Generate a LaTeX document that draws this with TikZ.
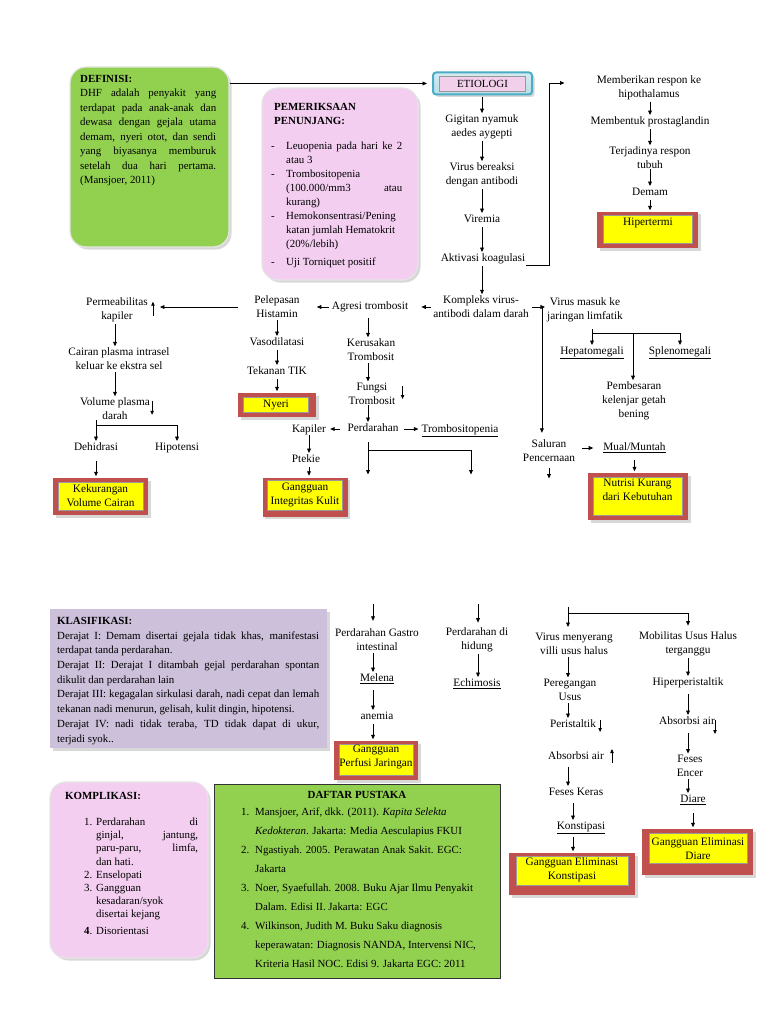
\documentclass[tikz,border=0pt]{standalone}
\usepackage{fontspec}
\setmainfont{Liberation Serif}
\usetikzlibrary{arrows.meta,calc,shadows}
\definecolor{grn}{RGB}{146,208,80}
\definecolor{pnk}{RGB}{243,206,240}
\definecolor{purp}{RGB}{204,192,218}
\definecolor{bred}{RGB}{192,80,77}
\definecolor{yel}{RGB}{255,255,0}
\definecolor{tealb}{RGB}{75,172,198}
\definecolor{etib}{RGB}{183,222,232}
\definecolor{etip}{RGB}{242,208,236}
\newcommand\fntA{\fontsize{11.3}{14}\selectfont}
\newcommand\fntB{\fontsize{10.9}{14.5}\selectfont}
\newcommand\fntK{\fontsize{10.9}{14.7}\selectfont}
\begin{document}
\begin{tikzpicture}[x=1pt,y=-1pt,
  txt/.style={font=\fntA, align=center, inner sep=0pt},
  one/.style={text height=8pt, text depth=2.5pt},
  arr/.style={-{Triangle[length=4.5pt,width=3.8pt]}, line width=0.8pt, shorten <=2pt, shorten >=1.5pt},
  sarr/.style={-{Triangle[length=4pt,width=3.4pt]}, line width=0.8pt},
  ln/.style={line width=0.8pt},
  shd/.style={drop shadow={shadow xshift=2.5pt, shadow yshift=-2.5pt, opacity=0.3}},
  redbox/.style={fill=bred, inner sep=0pt, shd},
  yelbox/.style={fill=yel, draw=black!40, line width=0.3pt, inner sep=0pt, font=\fntA, align=center},
  rbox/.style={rounded corners=16pt, draw=white!80!gray, line width=1.2pt, inner sep=0pt, shd},
]
\useasboundingbox (0,0) rectangle (768,1024);
\fill[white] (0,0) rectangle (768,1024);

% ---------- DEFINISI ----------
\node[rbox, fill=grn, minimum width=159, minimum height=180] (def) at (149.5,157) {};
\node[txt, font=\fntB, align=justify, text width=136, anchor=north west] (deftx) at (80,75)
 {\textbf{DEFINISI:}\\ DHF adalah penyakit yang\linebreak terdapat pada anak-anak dan\linebreak dewasa dengan gejala utama\linebreak demam, nyeri otot, dan sendi\linebreak yang biyasanya memburuk\linebreak setelah dua hari pertama.\linebreak (Mansjoer, 2011)};

% ---------- ETIOLOGI ----------
\node[rounded corners=3pt, draw=tealb, line width=2pt, top color=etib!60, bottom color=etib, minimum width=99, minimum height=22, inner sep=0pt, shd] (etiO) at (482.5,83.5) {};
\node[fill=etip, draw=black!40, line width=0.3pt, minimum width=86, minimum height=15, inner sep=0pt, font=\fntB] (eti) at (482.5,83.5) {ETIOLOGI};
\draw[arr, shorten <=0pt, shorten >=5pt] (def.east |- etiO.west) -- (etiO.west);

\node[txt] (gig) at (482,127) {Gigitan nyamuk\\aedes aygepti};
\node[txt] (vir) at (482,175) {Virus bereaksi\\dengan antibodi};
\node[txt, one] (vire) at (482,220) {Viremia};
\node[txt, one] (akt) at (483,259) {Aktivasi koagulasi};
\node[txt] (komp) at (481,307) {Kompleks virus-\\antibodi dalam darah};
\draw[arr] (etiO.south -| gig.north) -- (gig.north);
\draw[arr] (gig.south) -- (vir.north);
\draw[arr] (vir.south) -- (vire.north);
\draw[arr] (vire.south) -- (vire.south |- akt.north);
\draw[arr] (vire.south |- akt.south) -- (vire.south |- komp.north);

\coordinate (memin) at (566,83);
\coordinate (aktR) at ($(akt.east)+(1,6)$);
\draw[arr, shorten <=0pt] (aktR) -- ++(23,0) |- (memin);

% ---------- right top ----------
\node[txt] (mem) at (649,88) {Memberikan respon ke\\hipothalamus};
\node[txt, one] (pros) at (650,122) {Membentuk prostaglandin};
\node[txt] (terj) at (650,158) {Terjadinya respon\\tubuh};
\node[txt, one] (dem) at (650,193) {Demam};
\node[redbox, minimum width=101, minimum height=36] (hipO) at (647.5,230) {};
\node[yelbox, minimum width=89, minimum height=28] (hipI) at (647.5,229) {};
\node[txt, one] (hip) at (648,223) {Hipertermi};
\draw[arr] (mem.south -| pros.north) -- (pros.north);
\draw[arr] (pros.south) -- (terj.north);
\draw[arr, shorten <=0pt] (terj.south) -- (dem.north);
\draw[arr] (dem.south) -- (dem.south |- hipO.north);

% ---------- PEMERIKSAAN ----------
\node[rbox, fill=pnk, minimum width=156, minimum height=192] (pem) at (340,184) {};
\node[txt, font=\fntB\bfseries, align=left, anchor=north west] (pemt) at (274,103) {PEMERIKSAAN\\PENUNJANG:};
\node[txt, font=\fontsize{10.9}{14}\selectfont, align=justify, text width=131, anchor=north west] (peml) at (271,142)
 {\hangindent=15pt\hangafter=1 \makebox[15pt][l]{-}Leuopenia pada hari ke 2\linebreak atau 3\par
  \hangindent=15pt\hangafter=1 \makebox[15pt][l]{-}Trombositopenia\\(100.000/mm3 atau\linebreak kurang)\par
  \hangindent=15pt\hangafter=1 \makebox[15pt][l]{-}Hemokonsentrasi/Pening\linebreak katan jumlah Hematokrit\\(20\%/lebih)\par
  \vspace{3.5pt}\hangindent=15pt\hangafter=1 \makebox[15pt][l]{-}Uji Torniquet positif};

% ---------- middle row ----------
\node[txt, one] (agr) at (370,307) {Agresi trombosit};
\node[txt] (pel) at (277,307) {Pelepasan\\Histamin};
\node[txt] (perm) at (117,310) {Permeabilitas\\kapiler};
\draw[arr, shorten >=13pt] (komp.west) -- (komp.west -| agr.east);
\draw[arr, shorten <=3pt, shorten >=17pt] (agr.west) -- (agr.west -| pel.east);
\draw[arr, shorten <=16pt, shorten >=12pt] (pel.west) -- (pel.west -| perm.east);
\draw[sarr] ($(perm.north east)+(5,18)$) -- ++(0,-14);

\node[txt] (cair) at (119,359) {Cairan plasma intrasel\\keluar ke ekstra sel};
\node[txt] (vol) at (115,409) {Volume plasma\\darah};
\draw[arr] (perm.south -| vol.north) -- (vol.north |- cair.north);
\draw[arr] (cair.south -| vol.north) -- (vol.north);
\draw[sarr] ($(vol.north east)+(2,3)$) -- ++(0,14);

\node[txt, one] (dehi) at (96,448) {Dehidrasi};
\node[txt, one] (hipt) at (177,448) {Hipotensi};
\coordinate (vj) at (dehi.north |- vol.south);
\draw[arr, shorten <=0pt] (vj) -- (dehi.north);
\draw[arr, shorten <=0pt] ($(vj)+(0,5)$) -| (hipt.north);

\node[redbox, minimum width=95, minimum height=37] (kekO) at (100.5,496.5) {};
\node[yelbox, minimum width=85, minimum height=28] (kek) at (100.5,496) {Kekurangan\\Volume Cairan};
\draw[arr, shorten <=8pt] (dehi.south) -- (dehi.south |- kekO.north);

% Pelepasan column
\node[txt, one] (vaso) at (277,343) {Vasodilatasi};
\node[txt, one] (tek) at (277,372) {Tekanan TIK};
\node[redbox, minimum width=78, minimum height=24] (nyO) at (277,405) {};
\node[yelbox, minimum width=65, minimum height=15] (ny) at (276,404.5) {Nyeri};
\draw[arr] (pel.south) -- (vaso.north);
\draw[arr] (vaso.south) -- (tek.north);
\draw[arr] (tek.south) -- (tek.south |- nyO.north);

% Agresi column
\node[txt] (kerus) at (371,350) {Kerusakan\\Trombosit};
\node[txt] (fung) at (372,394) {Fungsi\\Trombosit};
\node[txt, one] (perd) at (373,429) {Perdarahan};
\draw[arr, shorten <=6pt] (agr.south -| 368,0) -- (368,0 |- kerus.north);
\draw[arr] (kerus.south -| 368,0) -- (368,0 |- fung.north);
\draw[arr, shorten <=0pt] (fung.south -| 368,0) -- (368,0 |- perd.north);
\draw[sarr] ($(fung.east)+(7,-8)$) -- ++(0,13);

\node[txt, one] (kap) at (309,430) {Kapiler};
\node[txt, one] (tromb) at (460,430) {\underline{Trombositopenia}};
\draw[arr, shorten <=7pt, shorten >=4pt] (perd.west) -- (perd.west -| kap.east);
\draw[arr, shorten <=5pt, shorten >=3pt] (perd.east) -- (perd.east -| tromb.west);

\node[txt, one] (ptek) at (306,460) {Ptekie};
\draw[arr, shorten <=0pt] (kap.south) -- (kap.south |- ptek.north);
\node[redbox, minimum width=85, minimum height=39] (kulO) at (305,497) {};
\node[yelbox, minimum width=75, minimum height=30] (kul) at (305,495) {Gangguan\\Integritas Kulit};
\draw[arr] (ptek.south -| kap.south) -- (kap.south |- kulO.north);

\coordinate (pd1) at (368,476);
\coordinate (pd2) at (471,476);
\coordinate (pdj) at (368,450);
\draw[arr, shorten <=8pt] (perd.south -| pd1) -- (pd1);
\draw[arr, shorten <=0pt] (pdj) -| (pd2);

% right middle
\node[txt] (vmas) at (585,310) {Virus masuk ke\\jaringan limfatik};
\draw[arr, shorten <=3pt, shorten >=2pt] (komp.east) -- (komp.east -| vmas.west);
\coordinate (kj) at ($(komp.east)+(13,0)$);
\node[txt] (sal) at (549,451) {Saluran\\Pencernaan};
\draw[arr, shorten <=0pt, shorten >=7pt] (kj) -- (kj |- sal.north);

\node[txt, one] (hep) at (592,352) {\underline{Hepatomegali}};
\node[txt, one] (spl) at (680,352) {\underline{Splenomegali}};
\node[txt] (pemb) at (634,401) {Pembesaran\\kelenjar getah\\bening};
\coordinate (vmj) at (633,333);
\draw[ln] (hep.north |- vmj) -- (spl.north |- vmj);
\draw[arr, shorten <=-4pt] (hep.north |- vmj) -- (hep.north);
\draw[arr, shorten <=0pt] (spl.north |- vmj) -- (spl.north);
\draw[arr, shorten <=0pt] (vmj) -- (vmj |- pemb.north);

\node[txt, one] (mual) at (634.5,448) {\underline{Mual/Muntah}};
\draw[arr, shorten <=7pt, shorten >=10pt] (sal.east |- mual.west) -- (mual.west);
\node[redbox, minimum width=100, minimum height=47] (nutO) at (638,496.5) {};
\node[yelbox, minimum width=89, minimum height=38] (nutI) at (637.5,496) {};
\node[txt] (nut) at (637.5,490) {Nutrisi Kurang\\dari Kebutuhan};
\draw[arr, shorten <=7pt] (mual.south) -- (mual.south |- nutO.north);
\coordinate (sd) at (549,480);
\draw[arr, shorten <=6pt] (sal.south -| sd) -- (sd);

% ---------- lower section ----------
\coordinate (g0) at (373,604);
\coordinate (h0) at (478,604);
\coordinate (s0) at (568,607);
\coordinate (s1) at (573,607);

\node[txt] (gas) at (377,640) {Perdarahan Gastro\\intestinal};
\node[txt, one] (mel) at (377,679) {\underline{Melena}};
\node[txt, one] (anem) at (377,717) {anemia};
\node[redbox, minimum width=84, minimum height=39] (perfO) at (376,760.5) {};
\node[yelbox, minimum width=74, minimum height=31] (perfI) at (376,759.5) {};
\node[txt] (perf) at (376,757) {Gangguan\\Perfusi Jaringan};
\draw[arr, shorten <=0pt, shorten >=8pt] (g0) -- (g0 |- gas.north);
\draw[arr] (g0 |- gas.south) -- (g0 |- mel.north);
\draw[arr, shorten <=6pt] (g0 |- mel.south) -- (g0 |- anem.north);
\draw[arr] (g0 |- anem.south) -- (g0 |- perfO.north);

\node[txt] (hid) at (477,640) {Perdarahan di\\hidung};
\node[txt, one] (ech) at (477,684) {\underline{Echimosis}};
\draw[arr, shorten <=0pt, shorten >=5pt] (h0) -- (h0 |- hid.north);
\draw[arr] (h0 |- hid.south) -- (h0 |- ech.north);

\node[txt] (vmny) at (574,644) {Virus menyerang\\villi usus halus};
\node[txt] (mob) at (688,644) {Mobilitas Usus Halus\\terganggu};
\draw[arr, shorten <=0pt, shorten >=6pt] (s0) -- (s0 |- vmny.north);
\draw[arr, shorten <=0pt, shorten >=6pt] ($(s0)+(0,6)$) -| (mob.north);

\node[txt] (pereg) at (570,690) {Peregangan\\Usus};
\node[txt, one] (peris) at (573,725) {Peristaltik};
\node[txt, one] (absk) at (576,757) {Absorbsi air};
\node[txt, one] (fesk) at (576,793) {Feses Keras};
\node[txt, one] (kons) at (581,827) {\underline{Konstipasi}};
\node[redbox, minimum width=126, minimum height=42] (konO) at (572,874) {};
\node[yelbox, minimum width=112, minimum height=29] (konI) at (572,871) {};
\node[txt] (kon) at (572,870) {Gangguan Eliminasi\\Konstipasi};
\draw[arr] (s0 |- vmny.south) -- (s0 |- pereg.north);
\draw[arr] (s0 |- pereg.south) -- (s0 |- peris.north);
\draw[sarr] ($(peris.east)+(4,-5)$) -- ++(0,12);
\draw[sarr] ($(absk.east)+(8,6)$) -- ++(0,-14);
\draw[arr, shorten <=5pt] (s0 |- absk.south) -- (s0 |- fesk.north);
\draw[arr, shorten <=5pt] (s1 |- fesk.south) -- (s1 |- kons.north);
\draw[arr, shorten <=5pt] (s1 |- kons.south) -- (s1 |- konO.north);

\node[txt, one] (hiper) at (688,683) {Hiperperistaltik};
\node[txt, one] (absd) at (687,722) {Absorbsi air};
\node[txt] (fese) at (690,766) {Feses\\Encer};
\node[txt, one] (diare) at (693,800) {\underline{Diare}};
\node[redbox, minimum width=111, minimum height=46] (diaO) at (697.5,852) {};
\node[yelbox, minimum width=98, minimum height=30] (diaI) at (698,848) {};
\node[txt] (dia) at (698,849) {Gangguan Eliminasi\\Diare};
\draw[arr] (mob.south) -- (mob.south |- hiper.north);
\draw[arr, shorten <=6pt] (mob.south |- hiper.south) -- (mob.south |- absd.north);
\draw[sarr] ($(absd.east)+(0,-2)$) -- ++(0,14);
\draw[arr, shorten <=6pt] (mob.south |- absd.south) -- (mob.south |- fese.north);
\draw[arr] (mob.south |- fese.south) -- (mob.south |- diare.north);
\draw[arr, shorten <=8pt] (diare.south) -- (diare.south |- diaO.north);

% ---------- KLASIFIKASI ----------
\node[fill=purp, minimum width=277, minimum height=139, inner sep=0pt, shd] (klas) at (188.5,678.5) {};
\node[txt, font=\fntK, align=justify, text width=262, anchor=north west] (klast) at (57,617)
 {\textbf{KLASIFIKASI:}\\
  Derajat I: Demam disertai gejala tidak khas, manifestasi\linebreak terdapat tanda perdarahan.\\
  Derajat II: Derajat I ditambah gejal perdarahan spontan\linebreak dikulit dan perdarahan lain\\
  Derajat III: kegagalan sirkulasi darah, nadi cepat dan lemah\linebreak tekanan nadi menurun, gelisah, kulit dingin, hipotensi.\\
  Derajat IV: nadi tidak teraba, TD tidak dapat di ukur,\linebreak terjadi syok..};

% ---------- KOMPLIKASI ----------
\node[rbox, fill=pnk, minimum width=158, minimum height=176] (komO) at (129,870) {};
\node[txt, font=\fntB\bfseries, anchor=north west] (komt) at (65,792) {KOMPLIKASI:};
\node[txt, font=\fontsize{10.9}{13.1}\selectfont, align=justify, text width=114, anchor=north west] (koml) at (84,818)
 {\hangindent=12pt\hangafter=1 \makebox[12pt][l]{1.}Perdarahan di\linebreak ginjal, jantung,\linebreak paru-paru, limfa,\linebreak dan hati.\par
  \hangindent=12pt\hangafter=1 \makebox[12pt][l]{2.}Enselopati\par
  \hangindent=12pt\hangafter=1 \makebox[12pt][l]{3.}Gangguan\\kesadaran/syok\\disertai kejang\par
  \vspace{4pt}\hangindent=12pt\hangafter=1 \makebox[12pt][l]{\textbf{4}.}Disorientasi};

% ---------- DAFTAR PUSTAKA ----------
\node[fill=grn, draw=black!80, line width=0.8pt, minimum width=286, minimum height=194, inner sep=0pt] (dafO) at (357,881) {};
\node[txt, font=\fntB\bfseries] (daft) at (357,795) {DAFTAR PUSTAKA};
\node[txt, font=\fontsize{10.9}{19}\selectfont, align=left, anchor=north west] (dafl) at (241,808)
 {\makebox[14pt][l]{1.}Mansjoer, Arif, dkk. (2011). \textit{Kapita Selekta}\\
  \hspace*{14pt}\textit{Kedokteran}. Jakarta: Media Aesculapius FKUI\\
  \makebox[14pt][l]{2.}Ngastiyah. 2005. Perawatan Anak Sakit. EGC:\\
  \hspace*{14pt}Jakarta\\
  \makebox[14pt][l]{3.}Noer, Syaefullah. 2008. Buku Ajar Ilmu Penyakit\\
  \hspace*{14pt}Dalam. Edisi II. Jakarta: EGC\\
  \makebox[14pt][l]{4.}Wilkinson, Judith M. Buku Saku diagnosis\\
  \hspace*{14pt}keperawatan: Diagnosis NANDA, Intervensi NIC,\\
  \hspace*{14pt}Kriteria Hasil NOC. Edisi 9. Jakarta EGC: 2011};
\end{tikzpicture}
\end{document}
